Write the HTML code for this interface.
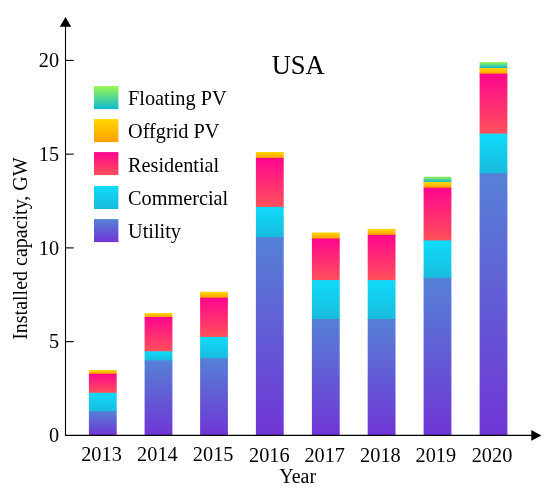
<!DOCTYPE html>
<html><head><meta charset="utf-8"><style>
html,body{margin:0;padding:0;background:#fff;}
body{width:550px;height:493px;overflow:hidden;}
svg{display:block;will-change:transform;}
text{font-family:"Liberation Serif",serif;fill:#000;}
</style></head><body>
<svg width="550" height="493" viewBox="0 0 550 493">
<defs>
<linearGradient id="gu" x1="0" y1="0" x2="0" y2="1"><stop offset="0" stop-color="#5581d6"/><stop offset="1" stop-color="#7035d5"/></linearGradient>
<linearGradient id="gc" x1="0" y1="0" x2="0" y2="1"><stop offset="0" stop-color="#10dbfa"/><stop offset="1" stop-color="#18bbdd"/></linearGradient>
<linearGradient id="gr" x1="0" y1="0" x2="0" y2="1"><stop offset="0" stop-color="#ff058f"/><stop offset="1" stop-color="#ff505a"/></linearGradient>
<linearGradient id="go" x1="0" y1="0" x2="0" y2="1"><stop offset="0" stop-color="#ffd800"/><stop offset="1" stop-color="#ffa000"/></linearGradient>
<linearGradient id="gf" x1="0" y1="0" x2="0" y2="1"><stop offset="0" stop-color="#98f850"/><stop offset="1" stop-color="#10b8d0"/></linearGradient>
</defs>
<rect width="550" height="493" fill="#fff"/>
<linearGradient id="go_0" gradientUnits="userSpaceOnUse" x1="0" y1="370.10" x2="0" y2="373.80"><stop offset="0" stop-color="#ffd800"/><stop offset="1" stop-color="#ffa000"/></linearGradient>
<rect x="88.90" y="370.10" width="27.80" height="4.70" fill="url(#go_0)"/>
<linearGradient id="gr_0" gradientUnits="userSpaceOnUse" x1="0" y1="373.80" x2="0" y2="392.80"><stop offset="0" stop-color="#ff058f"/><stop offset="1" stop-color="#ff505a"/></linearGradient>
<rect x="88.90" y="373.80" width="27.80" height="20.00" fill="url(#gr_0)"/>
<linearGradient id="gc_0" gradientUnits="userSpaceOnUse" x1="0" y1="392.80" x2="0" y2="411.30"><stop offset="0" stop-color="#10dbfa"/><stop offset="1" stop-color="#18bbdd"/></linearGradient>
<rect x="88.90" y="392.80" width="27.80" height="19.50" fill="url(#gc_0)"/>
<linearGradient id="gu_0" gradientUnits="userSpaceOnUse" x1="0" y1="411.30" x2="0" y2="435.40"><stop offset="0" stop-color="#5581d6"/><stop offset="1" stop-color="#7035d5"/></linearGradient>
<rect x="88.90" y="411.30" width="27.80" height="24.10" fill="url(#gu_0)"/>
<linearGradient id="go_1" gradientUnits="userSpaceOnUse" x1="0" y1="313.10" x2="0" y2="317.00"><stop offset="0" stop-color="#ffd800"/><stop offset="1" stop-color="#ffa000"/></linearGradient>
<rect x="144.60" y="313.10" width="27.80" height="4.90" fill="url(#go_1)"/>
<linearGradient id="gr_1" gradientUnits="userSpaceOnUse" x1="0" y1="317.00" x2="0" y2="351.30"><stop offset="0" stop-color="#ff058f"/><stop offset="1" stop-color="#ff505a"/></linearGradient>
<rect x="144.60" y="317.00" width="27.80" height="35.30" fill="url(#gr_1)"/>
<linearGradient id="gc_1" gradientUnits="userSpaceOnUse" x1="0" y1="351.30" x2="0" y2="360.50"><stop offset="0" stop-color="#10dbfa"/><stop offset="1" stop-color="#18bbdd"/></linearGradient>
<rect x="144.60" y="351.30" width="27.80" height="10.20" fill="url(#gc_1)"/>
<linearGradient id="gu_1" gradientUnits="userSpaceOnUse" x1="0" y1="360.50" x2="0" y2="435.40"><stop offset="0" stop-color="#5581d6"/><stop offset="1" stop-color="#7035d5"/></linearGradient>
<rect x="144.60" y="360.50" width="27.80" height="74.90" fill="url(#gu_1)"/>
<linearGradient id="go_2" gradientUnits="userSpaceOnUse" x1="0" y1="291.80" x2="0" y2="297.70"><stop offset="0" stop-color="#ffd800"/><stop offset="1" stop-color="#ffa000"/></linearGradient>
<rect x="200.10" y="291.80" width="27.80" height="6.90" fill="url(#go_2)"/>
<linearGradient id="gr_2" gradientUnits="userSpaceOnUse" x1="0" y1="297.70" x2="0" y2="336.90"><stop offset="0" stop-color="#ff058f"/><stop offset="1" stop-color="#ff505a"/></linearGradient>
<rect x="200.10" y="297.70" width="27.80" height="40.20" fill="url(#gr_2)"/>
<linearGradient id="gc_2" gradientUnits="userSpaceOnUse" x1="0" y1="336.90" x2="0" y2="358.10"><stop offset="0" stop-color="#10dbfa"/><stop offset="1" stop-color="#18bbdd"/></linearGradient>
<rect x="200.10" y="336.90" width="27.80" height="22.20" fill="url(#gc_2)"/>
<linearGradient id="gu_2" gradientUnits="userSpaceOnUse" x1="0" y1="358.10" x2="0" y2="435.40"><stop offset="0" stop-color="#5581d6"/><stop offset="1" stop-color="#7035d5"/></linearGradient>
<rect x="200.10" y="358.10" width="27.80" height="77.30" fill="url(#gu_2)"/>
<linearGradient id="go_3" gradientUnits="userSpaceOnUse" x1="0" y1="152.00" x2="0" y2="157.90"><stop offset="0" stop-color="#ffd800"/><stop offset="1" stop-color="#ffa000"/></linearGradient>
<rect x="255.90" y="152.00" width="27.80" height="6.90" fill="url(#go_3)"/>
<linearGradient id="gr_3" gradientUnits="userSpaceOnUse" x1="0" y1="157.90" x2="0" y2="206.90"><stop offset="0" stop-color="#ff058f"/><stop offset="1" stop-color="#ff505a"/></linearGradient>
<rect x="255.90" y="157.90" width="27.80" height="50.00" fill="url(#gr_3)"/>
<linearGradient id="gc_3" gradientUnits="userSpaceOnUse" x1="0" y1="206.90" x2="0" y2="237.10"><stop offset="0" stop-color="#10dbfa"/><stop offset="1" stop-color="#18bbdd"/></linearGradient>
<rect x="255.90" y="206.90" width="27.80" height="31.20" fill="url(#gc_3)"/>
<linearGradient id="gu_3" gradientUnits="userSpaceOnUse" x1="0" y1="237.10" x2="0" y2="435.40"><stop offset="0" stop-color="#5581d6"/><stop offset="1" stop-color="#7035d5"/></linearGradient>
<rect x="255.90" y="237.10" width="27.80" height="198.30" fill="url(#gu_3)"/>
<linearGradient id="go_4" gradientUnits="userSpaceOnUse" x1="0" y1="232.50" x2="0" y2="238.50"><stop offset="0" stop-color="#ffd800"/><stop offset="1" stop-color="#ffa000"/></linearGradient>
<rect x="311.90" y="232.50" width="27.80" height="7.00" fill="url(#go_4)"/>
<linearGradient id="gr_4" gradientUnits="userSpaceOnUse" x1="0" y1="238.50" x2="0" y2="280.10"><stop offset="0" stop-color="#ff058f"/><stop offset="1" stop-color="#ff505a"/></linearGradient>
<rect x="311.90" y="238.50" width="27.80" height="42.60" fill="url(#gr_4)"/>
<linearGradient id="gc_4" gradientUnits="userSpaceOnUse" x1="0" y1="280.10" x2="0" y2="319.00"><stop offset="0" stop-color="#10dbfa"/><stop offset="1" stop-color="#18bbdd"/></linearGradient>
<rect x="311.90" y="280.10" width="27.80" height="39.90" fill="url(#gc_4)"/>
<linearGradient id="gu_4" gradientUnits="userSpaceOnUse" x1="0" y1="319.00" x2="0" y2="435.40"><stop offset="0" stop-color="#5581d6"/><stop offset="1" stop-color="#7035d5"/></linearGradient>
<rect x="311.90" y="319.00" width="27.80" height="116.40" fill="url(#gu_4)"/>
<linearGradient id="go_5" gradientUnits="userSpaceOnUse" x1="0" y1="228.90" x2="0" y2="234.90"><stop offset="0" stop-color="#ffd800"/><stop offset="1" stop-color="#ffa000"/></linearGradient>
<rect x="367.70" y="228.90" width="27.80" height="7.00" fill="url(#go_5)"/>
<linearGradient id="gr_5" gradientUnits="userSpaceOnUse" x1="0" y1="234.90" x2="0" y2="280.10"><stop offset="0" stop-color="#ff058f"/><stop offset="1" stop-color="#ff505a"/></linearGradient>
<rect x="367.70" y="234.90" width="27.80" height="46.20" fill="url(#gr_5)"/>
<linearGradient id="gc_5" gradientUnits="userSpaceOnUse" x1="0" y1="280.10" x2="0" y2="319.00"><stop offset="0" stop-color="#10dbfa"/><stop offset="1" stop-color="#18bbdd"/></linearGradient>
<rect x="367.70" y="280.10" width="27.80" height="39.90" fill="url(#gc_5)"/>
<linearGradient id="gu_5" gradientUnits="userSpaceOnUse" x1="0" y1="319.00" x2="0" y2="435.40"><stop offset="0" stop-color="#5581d6"/><stop offset="1" stop-color="#7035d5"/></linearGradient>
<rect x="367.70" y="319.00" width="27.80" height="116.40" fill="url(#gu_5)"/>
<linearGradient id="gf_6" gradientUnits="userSpaceOnUse" x1="0" y1="176.70" x2="0" y2="181.90"><stop offset="0" stop-color="#98f850"/><stop offset="1" stop-color="#10b8d0"/></linearGradient>
<rect x="423.60" y="176.70" width="27.80" height="6.20" fill="url(#gf_6)"/>
<linearGradient id="go_6" gradientUnits="userSpaceOnUse" x1="0" y1="181.90" x2="0" y2="187.70"><stop offset="0" stop-color="#ffd800"/><stop offset="1" stop-color="#ffa000"/></linearGradient>
<rect x="423.60" y="181.90" width="27.80" height="6.80" fill="url(#go_6)"/>
<linearGradient id="gr_6" gradientUnits="userSpaceOnUse" x1="0" y1="187.70" x2="0" y2="240.40"><stop offset="0" stop-color="#ff058f"/><stop offset="1" stop-color="#ff505a"/></linearGradient>
<rect x="423.60" y="187.70" width="27.80" height="53.70" fill="url(#gr_6)"/>
<linearGradient id="gc_6" gradientUnits="userSpaceOnUse" x1="0" y1="240.40" x2="0" y2="277.90"><stop offset="0" stop-color="#10dbfa"/><stop offset="1" stop-color="#18bbdd"/></linearGradient>
<rect x="423.60" y="240.40" width="27.80" height="38.50" fill="url(#gc_6)"/>
<linearGradient id="gu_6" gradientUnits="userSpaceOnUse" x1="0" y1="277.90" x2="0" y2="435.40"><stop offset="0" stop-color="#5581d6"/><stop offset="1" stop-color="#7035d5"/></linearGradient>
<rect x="423.60" y="277.90" width="27.80" height="157.50" fill="url(#gu_6)"/>
<linearGradient id="gf_7" gradientUnits="userSpaceOnUse" x1="0" y1="62.10" x2="0" y2="68.00"><stop offset="0" stop-color="#98f850"/><stop offset="1" stop-color="#10b8d0"/></linearGradient>
<rect x="479.60" y="62.10" width="27.80" height="6.90" fill="url(#gf_7)"/>
<linearGradient id="go_7" gradientUnits="userSpaceOnUse" x1="0" y1="68.00" x2="0" y2="73.70"><stop offset="0" stop-color="#ffd800"/><stop offset="1" stop-color="#ffa000"/></linearGradient>
<rect x="479.60" y="68.00" width="27.80" height="6.70" fill="url(#go_7)"/>
<linearGradient id="gr_7" gradientUnits="userSpaceOnUse" x1="0" y1="73.70" x2="0" y2="133.60"><stop offset="0" stop-color="#ff058f"/><stop offset="1" stop-color="#ff505a"/></linearGradient>
<rect x="479.60" y="73.70" width="27.80" height="60.90" fill="url(#gr_7)"/>
<linearGradient id="gc_7" gradientUnits="userSpaceOnUse" x1="0" y1="133.60" x2="0" y2="173.20"><stop offset="0" stop-color="#10dbfa"/><stop offset="1" stop-color="#18bbdd"/></linearGradient>
<rect x="479.60" y="133.60" width="27.80" height="40.60" fill="url(#gc_7)"/>
<linearGradient id="gu_7" gradientUnits="userSpaceOnUse" x1="0" y1="173.20" x2="0" y2="435.40"><stop offset="0" stop-color="#5581d6"/><stop offset="1" stop-color="#7035d5"/></linearGradient>
<rect x="479.60" y="173.20" width="27.80" height="262.20" fill="url(#gu_7)"/>
<line x1="65.5" y1="22" x2="65.5" y2="435.95" stroke="#000" stroke-width="1.1"/>
<path d="M65.5 17.0 L59.8 26.8 L71.2 26.8 Z" fill="#000"/>
<line x1="64.95" y1="435.4" x2="536" y2="435.4" stroke="#000" stroke-width="1.1"/>
<path d="M541.4 435.4 L531.3 429.95 L531.3 440.84999999999997 Z" fill="#000"/>
<line x1="65.5" y1="341.65" x2="73.7" y2="341.65" stroke="#000" stroke-width="1.1"/>
<line x1="65.5" y1="247.90" x2="73.7" y2="247.90" stroke="#000" stroke-width="1.1"/>
<line x1="65.5" y1="154.15" x2="73.7" y2="154.15" stroke="#000" stroke-width="1.1"/>
<line x1="65.5" y1="60.40" x2="73.7" y2="60.40" stroke="#000" stroke-width="1.1"/>
<text x="59.1" y="442.20" font-size="20.3" text-anchor="end">0</text>
<text x="59.1" y="348.45" font-size="20.3" text-anchor="end">5</text>
<text x="59.1" y="254.70" font-size="20.3" text-anchor="end">10</text>
<text x="59.1" y="160.95" font-size="20.3" text-anchor="end">15</text>
<text x="59.1" y="67.20" font-size="20.3" text-anchor="end">20</text>
<text x="101.50" y="460.60" font-size="20.3" text-anchor="middle">2013</text>
<text x="157.40" y="460.60" font-size="20.3" text-anchor="middle">2014</text>
<text x="213.15" y="460.60" font-size="20.3" text-anchor="middle">2015</text>
<text x="269.30" y="462.00" font-size="20.3" text-anchor="middle">2016</text>
<text x="324.70" y="462.00" font-size="20.3" text-anchor="middle">2017</text>
<text x="380.40" y="462.00" font-size="20.3" text-anchor="middle">2018</text>
<text x="435.85" y="462.00" font-size="20.3" text-anchor="middle">2019</text>
<text x="492.00" y="462.00" font-size="20.3" text-anchor="middle">2020</text>
<text x="297.7" y="483.1" font-size="20" text-anchor="middle">Year</text>
<text x="298.2" y="73.5" font-size="26.5" text-anchor="middle">USA</text>
<text transform="translate(27 248.6) rotate(-90)" x="0" y="0" font-size="20" text-anchor="middle">Installed capacity, GW</text>
<rect x="94" y="86.10" width="24.4" height="23" fill="url(#gf)"/>
<text x="128" y="104.70" font-size="20.3">Floating PV</text>
<rect x="94" y="119.10" width="24.4" height="23" fill="url(#go)"/>
<text x="128" y="137.90" font-size="20.3">Offgrid PV</text>
<rect x="94" y="152.10" width="24.4" height="23" fill="url(#gr)"/>
<text x="128" y="171.80" font-size="20.3">Residential</text>
<rect x="94" y="186.00" width="24.4" height="23" fill="url(#gc)"/>
<text x="128" y="204.80" font-size="20.3">Commercial</text>
<rect x="94" y="219.10" width="24.4" height="23" fill="url(#gu)"/>
<text x="128" y="238.10" font-size="20.3">Utility</text>
</svg></body></html>
